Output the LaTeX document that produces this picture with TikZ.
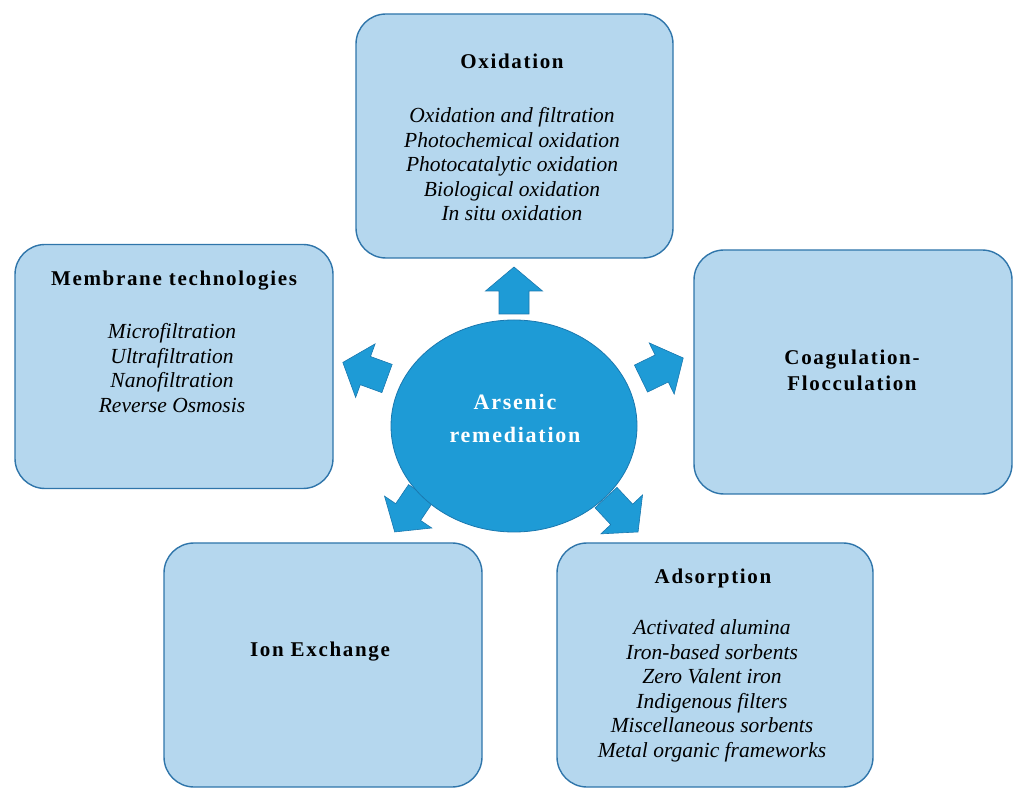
\documentclass[tikz,border=0pt]{standalone}
\usepackage{fontspec}
\setmainfont{Liberation Serif}
\newfontfamily\ttlfont[LetterSpace=8]{Liberation Serif}
\usetikzlibrary{shapes.geometric}
\definecolor{boxfill}{RGB}{181,215,238}
\definecolor{boxline}{RGB}{47,117,170}
\definecolor{hubfill}{RGB}{30,155,214}
\definecolor{hubline}{RGB}{26,120,175}
\tikzset{
  x=1pt, y=1pt,
  techbox/.style={draw=boxline, line width=1.4pt, fill=boxfill, rounded corners=30pt,
    minimum width=#1, minimum height=244pt, inner sep=0pt},
  techbox/.default=318pt,
  ttl/.style={font=\ttlfont\bfseries\fontsize{21}{26}\selectfont, align=center, inner sep=0pt},
  items/.style={font=\itshape\fontsize{21.5}{24.5}\selectfont, align=center, inner sep=0pt},
  hub/.style={ellipse, draw=hubline, line width=0.8pt, fill=hubfill, minimum width=246pt,
    minimum height=212pt, inner sep=0pt},
  hubtext/.style={font=\ttlfont\bfseries\fontsize{22}{33}\selectfont, text=white, align=center, inner sep=0pt},
  blockarrow/.style={draw=hubline, line width=0.6pt, fill=hubfill, line join=miter}
}
\newcommand{\blkarrow}[2]{%
  \filldraw[blockarrow, shift={#1}, rotate=#2]
    (0,-15) -- (23,-15) -- (23,-28.5) -- (47,0) -- (23,28.5) -- (23,15) -- (0,15) -- cycle;}
\begin{document}
\begin{tikzpicture}
\useasboundingbox (0,0) rectangle (1024,803);
% boxes
\node[techbox=317pt] (ox) at (514.5,667) {};
\node[techbox] (mem) at (174,436.5) {};
\node[techbox] (coag) at (853,431) {};
\node[techbox] (ion) at (323,138) {};
\node[techbox=316pt] (ads) at (715,138) {};
% texts
\node[ttl] (oxt) at (512,742) {Oxidation};
\node[items] (oxi) at (512,638.5) {Oxidation and filtration\\Photochemical oxidation\\Photocatalytic oxidation\\Biological oxidation\\In situ oxidation};
\node[ttl] (memt) at (174,522) {Membrane technologies};
\node[items] (memi) at (172,435) {Microfiltration\\Ultrafiltration\\Nanofiltration\\Reverse Osmosis};
\node[ttl] (coagt) at (852,433) {Coagulation-\\Flocculation};
\node[ttl] (iont) at (320,151) {Ion Exchange};
\node[ttl] (adst) at (713,225) {Adsorption};
\node[items] (adsi) at (712,112) {Activated alumina\\Iron-based sorbents\\Zero Valent iron\\Indigenous filters\\Miscellaneous sorbents\\Metal organic frameworks};
% arrows
\blkarrow{(514,489)}{90}
\blkarrow{(387,424.5)}{160}
\blkarrow{(641,424.4)}{26}
\blkarrow{(421,310)}{236}
\blkarrow{(606,305.4)}{-47}
% hub
\node[hub] (hubn) at (514,377) {};
\node[hubtext] (hubt) at (515,384.5) {Arsenic\\remediation};
\end{tikzpicture}
\end{document}
